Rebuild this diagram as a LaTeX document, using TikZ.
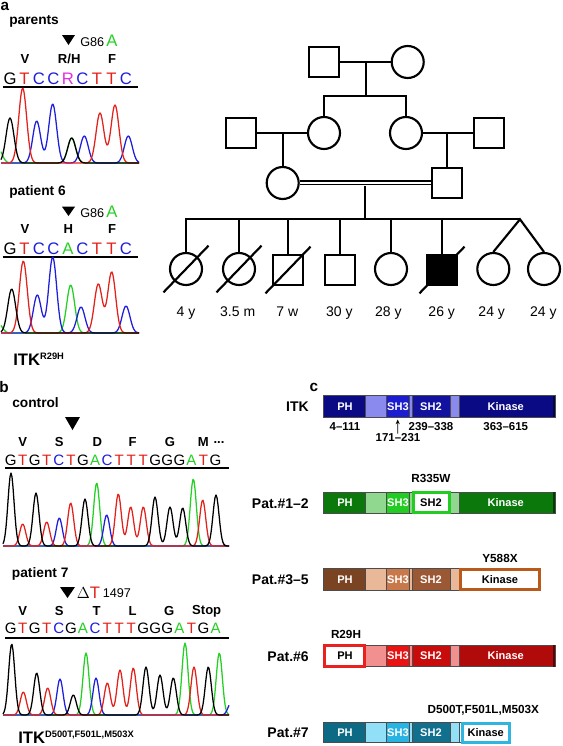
\documentclass[tikz,border=0pt]{standalone}
\usepackage{fontspec}
\setmainfont{Liberation Sans}
\usetikzlibrary{arrows.meta}
\definecolor{tr}{HTML}{E3221C}
\definecolor{tb}{HTML}{1E1EDC}
\definecolor{tg}{HTML}{24D024}
\definecolor{tm}{HTML}{E02EE0}
\definecolor{itkD}{HTML}{0A0A84}
\definecolor{itkL}{HTML}{8A8AEE}
\definecolor{itkS}{HTML}{1C1CD0}
\definecolor{itkT}{HTML}{12129E}
\definecolor{grD}{HTML}{0A780A}
\definecolor{grL}{HTML}{90D890}
\definecolor{grS}{HTML}{22CC22}
\definecolor{brD}{HTML}{7A4422}
\definecolor{brL}{HTML}{E8B898}
\definecolor{brS}{HTML}{C8784A}
\definecolor{brT}{HTML}{9A5834}
\definecolor{brB}{HTML}{B85A1C}
\definecolor{rdK}{HTML}{B00A0A}
\definecolor{rdL}{HTML}{F29090}
\definecolor{rdS}{HTML}{E81414}
\definecolor{rdT}{HTML}{C80C0C}
\definecolor{rdB}{HTML}{E82020}
\definecolor{tlD}{HTML}{0C6A84}
\definecolor{tlL}{HTML}{92E0F8}
\definecolor{tlS}{HTML}{28B4E2}
\definecolor{tlT}{HTML}{10708E}
\definecolor{tlB}{HTML}{30B4E0}
\newcommand\fs[1]{\fontsize{#1}{#1}\selectfont}
\newcommand\dombar[8]{%
  \filldraw[seg, fill=#3] (323.3,#1) rectangle (365,#2);
  \filldraw[seg, fill=#4] (365,#1) rectangle (386.7,#2);
  \filldraw[seg, fill=#5] (386.7,#1) rectangle (409.3,#2);
  \filldraw[seg, fill=#4] (409.3,#1) rectangle (412.7,#2);
  \filldraw[seg, fill=#6] (412.7,#1) rectangle (450,#2);
  \filldraw[seg, fill=#4] (450,#1) rectangle (459,#2);
  \filldraw[seg, fill=#7] (459,#1) rectangle (#8,#2);
}
\begin{document}
\begin{tikzpicture}[x=0.75pt,y=-0.75pt,
  declare function={ga(\pX,\pC,\pH)=\pH*exp(-min(((\pX-\pC)/5.6)*((\pX-\pC)/5.6),12));
                     gb(\pX,\pC,\pH)=\pH*exp(-min(((\pX-\pC)/4.3)*((\pX-\pC)/4.3),12));},
  trace/.style={line width=0.95pt, line join=round},
  ped/.style={line width=1.6pt},
  male/.style={draw, line width=1.6pt, minimum size=22.5pt, inner sep=0pt},
  female/.style={draw, circle, line width=1.6pt, minimum size=24pt, inner sep=0pt},
  dead/.style={line width=1.6pt},
  age/.style={font=\fs{10.5}, anchor=base, inner sep=0pt},
  plet/.style={font=\bfseries\fs{11.5}, inner sep=0pt},
  who/.style={font=\bfseries\fs{10.3}, anchor=west, inner sep=0pt},
  aa/.style={font=\bfseries\fs{9.8}, inner sep=0pt},
  seqa/.style={font=\fs{12.5}, inner sep=0pt},
  seqb/.style={font=\fs{11.3}, inner sep=0pt},
  uline/.style={line width=1.4pt},
  lab/.style={font=\bfseries\fs{10.5}, anchor=east, inner sep=0pt},
  dom/.style={font=\bfseries\fs{8.3}, text=white, inner sep=0pt},
  domk/.style={font=\bfseries\fs{8.3}, text=black, inner sep=0pt},
  rng/.style={font=\bfseries\fs{8.6}, inner sep=0pt},
  mut/.style={font=\bfseries\fs{8.8}, inner sep=0pt},
  seg/.style={draw=black!70, line width=0.4pt},
  mbox/.style={fill=white, line width=2.2pt},
]
\useasboundingbox (0,0) rectangle (563,746);

% ================= panel a : chromatograms =================
\node[plet] (la) at (5,6) {a};
\node[who] (par) at (9,21.7) {parents};
\fill (62,35) -- (75,35) -- (68.5,45) -- cycle;
\node[font=\fs{9.5}, anchor=west, inner sep=0pt] (g86a) at (80,42) {G86};
\node[font=\fs{12.5}, text=tg, anchor=west, inner sep=0pt] (g86aA) at (106,41) {A};
\node[aa] (pV) at (25,59.2) {V};
\node[aa] (pRH) at (69.2,59.2) {R/H};
\node[aa] (pF) at (112,59.2) {F};
\foreach \L/\C [count=\i from 0] in {G/black,T/tr,C/tb,C/tb,R/tm,C/tb,T/tr,T/tr,C/tb}
  \node[seqa, text=\C] (ps\i) at ({10+14.5*\i},79.2) {\L};
\draw[uline] (2.7,87.3) -- (138.3,87.3);
\draw[trace, tg] plot[domain=1:139, samples=139] (\x,{163-ga(\x,71.7,25)-ga(\x,-2,15)});
\draw[trace, tb] plot[domain=1:139, samples=139] (\x,{163-ga(\x,36.7,42)-ga(\x,52.7,59)-ga(\x,84.3,27)-ga(\x,128.3,27)});
\draw[trace, tr] plot[domain=1:139, samples=139] (\x,{163-ga(\x,22.7,75)-ga(\x,100,50)-ga(\x,115,58)});
\draw[trace, black] plot[domain=1:139, samples=139] (\x,{163-ga(\x,10,45)-ga(\x,71.7,25)});

\node[who] (p6) at (9,191.7) {patient 6};
\fill (62,206.7) -- (75,206.7) -- (68.5,216) -- cycle;
\node[font=\fs{9.5}, anchor=west, inner sep=0pt] (g86b) at (80,213) {G86};
\node[font=\fs{12.5}, text=tg, anchor=west, inner sep=0pt] (g86bA) at (106,212) {A};
\node[aa] (qV) at (25,229.2) {V};
\node[aa] (qH) at (68.3,229.2) {H};
\node[aa] (qF) at (112,229.2) {F};
\foreach \L/\C [count=\i from 0] in {G/black,T/tr,C/tb,C/tb,A/tg,C/tb,T/tr,T/tr,C/tb}
  \node[seqa, text=\C] (qs\i) at ({10+14.5*\i},249.2) {\L};
\draw[uline] (2.7,257.3) -- (138.3,257.3);
\draw[trace, tg] plot[domain=1:139, samples=139] (\x,{333-ga(\x,70.7,48)-ga(\x,-2,10)});
\draw[trace, tb] plot[domain=1:139, samples=139] (\x,{333-ga(\x,37.3,38)-ga(\x,52.7,76)-ga(\x,81,26)-ga(\x,126,27)});
\draw[trace, tr] plot[domain=1:139, samples=139] (\x,{333-ga(\x,23.3,72)-ga(\x,98.3,49)-ga(\x,111.7,61)});
\draw[trace, black] plot[domain=1:139, samples=139] (\x,{333-ga(\x,11.7,44)});

\node[font=\bfseries\fs{12.5}, anchor=west, inner sep=0pt] (itka) at (13,359) {ITK\textsuperscript{\fs{7}R29H}};

% ================= panel b =================
\node[plet] (lb) at (4,387) {b};
\node[who] (ctl) at (12,402.5) {control};
\fill (65,417) -- (80,417) -- (72.5,430) -- cycle;
\foreach \L/\X [count=\i] in {V/22.7,S/59.3,D/97.3,F/132.7,G/170,M/203.3}
  \node[aa] (ca\i) at (\X,441.7) {\L};
\node[aa] (cdots) at (219,443) {...};
\foreach \L/\C [count=\i from 0] in {G/black,T/tr,G/black,T/tr,C/tb,T/tr,G/black,A/tg,C/tb,T/tr,T/tr,T/tr,G/black,G/black,G/black,A/tg,T/tr,G/black}
  \node[seqb, text=\C] (cs\i) at ({10.7+12.05*\i},460.5) {\L};
\draw[uline] (5,467.7) -- (229,467.7);
\draw[trace, tg] plot[domain=3:229, samples=227] (\x,{546-gb(\x,96.7,63)-gb(\x,193.3,67)});
\draw[trace, tb] plot[domain=3:229, samples=227] (\x,{546-gb(\x,59.3,28)-gb(\x,106.7,31)});
\draw[trace, tr] plot[domain=3:229, samples=227] (\x,{546-gb(\x,22.7,22)-gb(\x,46.7,24)-gb(\x,70.7,43)-gb(\x,118.3,52)-gb(\x,130.7,39)-gb(\x,143.3,39)-gb(\x,202.7,46)});
\draw[trace, black] plot[domain=3:229, samples=227] (\x,{546-gb(\x,11,73)-gb(\x,36,53)-gb(\x,85,47)-gb(\x,155,49)-gb(\x,170,39)-gb(\x,182.7,38)-gb(\x,216,51)});

\node[who] (p7) at (11.7,574) {patient 7};
\fill (60,587) -- (75,587) -- (67.5,598) -- cycle;
\node[font=\fs{12.5}, anchor=west, inner sep=0pt] (dT) at (76.5,592.7) {$\Delta$\textcolor{tr}{T}};
\node[font=\fs{9.5}, anchor=west, inner sep=0pt] (n1497) at (102.5,592.7) {1497};
\foreach \L/\X [count=\i] in {V/22.7,S/59.3,T/96.7,L/132.7,G/169.3}
  \node[aa] (da\i) at (\X,611.3) {\L};
\node[aa] (dstop) at (206.7,611.3) {Stop};
\foreach \L/\C [count=\i from 0] in {G/black,T/tr,G/black,T/tr,C/tb,G/black,A/tg,C/tb,T/tr,T/tr,T/tr,G/black,G/black,G/black,A/tg,T/tr,G/black,A/tg}
  \node[seqb, text=\C] (ds\i) at ({10.7+12.05*\i},628.7) {\L};
\draw[uline] (5,638.3) -- (229,638.3);
\draw[trace, tg] plot[domain=3:229, samples=227] (\x,{715-gb(\x,86,62)-gb(\x,185,72)-gb(\x,219.3,62)});
\draw[trace, tb] plot[domain=3:229, samples=227] (\x,{715-gb(\x,60,36)-gb(\x,96,37)-gb(\x,231,12)});
\draw[trace, tr] plot[domain=3:229, samples=227] (\x,{715-gb(\x,23.3,23)-gb(\x,47.7,27)-gb(\x,107.3,32)-gb(\x,120,45)-gb(\x,133.3,47)-gb(\x,194,48)});
\draw[trace, black] plot[domain=3:229, samples=227] (\x,{715-gb(\x,11.7,71)-gb(\x,36.7,42)-gb(\x,73.3,20)-gb(\x,146,48)-gb(\x,160,40)-gb(\x,173.3,37)-gb(\x,208.3,48)});

\node[font=\bfseries\fs{12.5}, anchor=west, inner sep=0pt] (itkb) at (18,737) {ITK\textsuperscript{\fs{7}D500T,F501L,M503X}};

% ================= pedigree =================
\node[male] (g1m) at (324,62) {};
\node[female] (g1f) at (407.7,62) {};
\node[male] (g2a) at (241,133) {};
\node[female] (g2b) at (324,133) {};
\node[female] (g2c) at (406,133) {};
\node[male] (g2d) at (489,133) {};
\node[female] (g3f) at (282.7,183) {};
\node[male] (g3m) at (447,183) {};
\node[female] (c1) at (186,269) {};
\node[female] (c2) at (239,269) {};
\node[male] (c3) at (288,270) {};
\node[male] (c4) at (340,270) {};
\node[female] (c5) at (391,269) {};
\node[male, fill=black] (c6) at (442,270) {};
\node[female] (c7) at (493.3,269) {};
\node[female] (c8) at (544,269) {};

\coordinate (m1) at (365.7,62);
\coordinate (s1) at (365.7,96);
\coordinate (d1) at (365,185.5);
\coordinate (sib) at (365,219.3);
\coordinate (tw) at (520,219.3);
\draw[ped] (g1m) -- (g1f);
\draw[ped] (m1) -- (s1);
\draw[ped] (g2b.north) |- (s1) -| (g2c.north);
\draw[ped] (g2a) -- (g2b);
\draw[ped] (g3f.north) -- (g3f.north |- g2a.center);
\draw[ped] (g2c) -- (g2d);
\draw[ped] (g3m.north) -- (g3m.north |- g2c.center);
\draw[line width=1.1pt] ([yshift=1.6pt]g3f.east) -- ([yshift=1.6pt]g3m.west);
\draw[line width=1.1pt] ([yshift=-1.1pt]g3f.east) -- ([yshift=-1.1pt]g3m.west);
\draw[ped] (d1) -- (sib);
\draw[ped] (c1.north) |- (tw);
\foreach \c in {c2,c3,c4,c5,c6} \draw[ped] (\c.north) -- (\c.north |- sib);
\draw[ped] (c7.north) -- (tw) -- (c8.north);
\foreach \c in {c1,c2,c3,c6}
  \draw[dead] ([shift={(-22.5,23.3)}]\c.center) -- ([shift={(22.5,-23.3)}]\c.center);

\node[age] (a1) at (186,316.5) {4 y};
\node[age] (a2) at (237.7,316.5) {3.5 m};
\node[age] (a3) at (287.3,316.5) {7 w};
\node[age] (a4) at (339.3,316.5) {30 y};
\node[age] (a5) at (388.3,316.5) {28 y};
\node[age] (a6) at (441.7,316.5) {26 y};
\node[age] (a7) at (491.7,316.5) {24 y};
\node[age] (a8) at (543.3,316.5) {24 y};

% ================= panel c =================
\node[plet] (lc) at (314,387) {c};

% ITK
\dombar{395.7}{417.3}{itkD}{itkL}{itkS}{itkT}{itkD}{555}
\fill[itkD!50!black] (552.8,395.7) rectangle (555,417.3);
\node[lab] (litk) at (309,407) {ITK};
\node[dom] (i1) at (345,406.5) {PH};
\node[dom] (i2) at (398,406.5) {SH3};
\node[dom] (i3) at (431,406.5) {SH2};
\node[dom] (i4) at (505.7,406.5) {Kinase};
\node[rng] (r1) at (345,426.7) {4–111};
\node[rng] (r2) at (431,426.7) {239–338};
\node[rng] (r4) at (505.7,426.7) {363–615};
\node[rng] (r3) at (398,438) {171–231};
\coordinate (r3t) at (397.7,419.5);
\draw[-{Stealth[length=3.5pt,width=3pt]}, line width=0.6pt] ([xshift=-0.2pt]r3.north) -- (r3t);

% Pat 1-2
\dombar{492.3}{513.3}{grD}{grL}{grS}{white}{grD}{555}
\fill[grD!50!black] (552.8,492.3) rectangle (555,513.3);
\draw[mbox, draw=grS] (413.2,492.5) rectangle (449.2,512.8);
\node[lab] (l12) at (309,503.7) {Pat.\#1–2};
\node[dom] (j1) at (345,502.8) {PH};
\node[dom] (j2) at (398,502.8) {SH3};
\node[domk] (j3) at (431,502.8) {SH2};
\node[dom] (j4) at (505.7,502.8) {Kinase};
\node[mut] (m12) at (431,478.5) {R335W};

% Pat 3-5
\dombar{568.3}{590}{brD}{brL}{brS}{brT}{white}{540}
\draw[mbox, draw=brB] (460.8,569.2) rectangle (539.2,589.5);
\node[lab] (l35) at (309,580) {Pat.\#3–5};
\node[dom] (k1) at (345,579.2) {PH};
\node[dom] (k2) at (398,579.2) {SH3};
\node[dom] (k3) at (431,579.2) {SH2};
\node[domk] (k4) at (500,579.2) {Kinase};
\node[mut] (m35) at (500,558.3) {Y588X};

% Pat 6
\dombar{645}{666.7}{white}{rdL}{rdS}{rdT}{rdK}{555}
\fill[rdK!50!black] (552.8,645) rectangle (555,666.7);
\draw[mbox, draw=rdB] (324.8,645.2) rectangle (364.2,666.2);
\node[lab] (l6) at (309,656.7) {Pat.\#6};
\node[domk] (h1) at (345,655.8) {PH};
\node[dom] (h2) at (398,655.8) {SH3};
\node[dom] (h3) at (431,655.8) {SH2};
\node[dom] (h4) at (505.7,655.8) {Kinase};
\node[mut] (m6) at (346,634) {R29H};

% Pat 7
\dombar{722.7}{742.7}{tlD}{tlL}{tlS}{tlT}{white}{510}
\draw[mbox, draw=tlB] (462.2,723.2) rectangle (509.2,742.5);
\node[lab] (l7) at (309,732.7) {Pat.\#7};
\node[dom] (t1) at (345,732.7) {PH};
\node[dom] (t2) at (398,732.7) {SH3};
\node[dom] (t3) at (431,732.7) {SH2};
\node[domk] (t4) at (485.7,732.7) {Kinase};
\node[mut] (m7) at (483.3,710) {D500T,F501L,M503X};
\end{tikzpicture}
\end{document}
